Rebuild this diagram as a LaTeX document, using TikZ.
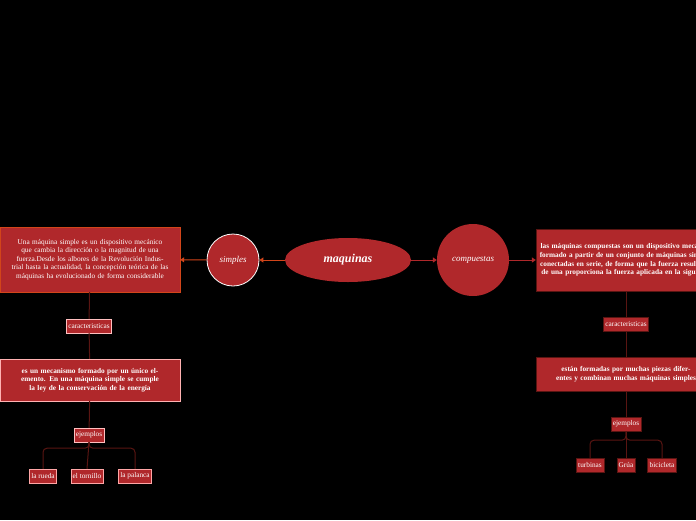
\documentclass[tikz,border=0pt]{standalone}
\usepackage{fontspec}
\setmainfont{Liberation Serif}
\usetikzlibrary{arrows.meta,shapes.geometric}
\definecolor{boxred}{HTML}{B0282B}
\definecolor{linkor}{HTML}{D2451A}
\definecolor{linkdk}{HTML}{5A1512}
\begin{document}
\begin{tikzpicture}[x=1pt,y=-1pt,
  txt/.style={fill=boxred,text=white,font=\fontsize{7.3}{8.6}\selectfont,align=center,inner sep=2pt,draw=linkor,line width=0.4pt},
  bold/.style={txt,font=\bfseries\fontsize{7.3}{8.6}\selectfont,draw=red!30!white},
  tag/.style={fill=boxred,text=white,font=\fontsize{7.3}{8.6}\selectfont,inner sep=2pt,draw=red!25!white,line width=0.4pt,minimum height=14pt},
  leaf/.style={tag,draw=red!35!white},
  vlink/.style={draw=linkdk,line width=1pt},
  hlink/.style={draw=linkor,line width=1pt}]
\fill[black] (0,0) rectangle (696,520);
\clip (0,0) rectangle (696,520);
\useasboundingbox (0,0) rectangle (696,520);
% central
\node[ellipse,fill=boxred,minimum width=126pt,minimum height=44pt,inner sep=0,text=white,font=\bfseries\itshape\large] (m) at (348,260) {maquinas};
\node[circle,fill=boxred,draw=white,line width=0.8pt,minimum size=52pt,inner sep=0,text=white,font=\itshape\small] (s) at (233,260) {simples};
\node[circle,fill=boxred,minimum size=72pt,inner sep=0,text=white,font=\itshape\small] (c) at (473,260) {compuestas};
% left
\node[txt,text width=176pt,minimum height=65pt] (l1) at (90,259.5) {Una máquina simple es un dispositivo mecánico que cambia la dirección o la magnitud de una fuerza.Desde los albores de la Revolución Industrial hasta la actualidad, la concepción teórica de las máquinas ha evolucionado de forma considerable};
\node[tag] (lc) at (89,326) {caracteristicas};
\node[bold,text width=176pt,minimum height=42pt] (l2) at (90,380) {es un mecanismo formado por un único elemento. En una máquina simple se cumple la ley de la conservación de la energía};
\node[tag] (le) at (89,435) {ejemplos};
\node[leaf] (r1) at (43,476) {la rueda};
\node[leaf] (r2) at (87,476) {el tornillo};
\node[leaf] (r3) at (135,476) {la palanca};
% right
\node[bold,draw=linkdk,text width=176pt,minimum height=62pt] (rb1) at (626,260) {las máquinas compuestas son un dispositivo mecánico formado a partir de un conjunto de máquinas simples conectadas en serie, de forma que la fuerza resultante de una proporciona la fuerza aplicada en la siguiente};
\node[tag,draw=linkdk] (rc) at (626,324) {caracteristicas};
\node[bold,draw=linkdk,text width=176pt,minimum height=34pt] (rb2) at (626,374) {están formadas por muchas piezas diferentes y combinan muchas máquinas simples};
\node[tag,draw=linkdk] (re) at (626,424) {ejemplos};
\node[leaf,draw=linkdk] (t1) at (590,465) {turbinas};
\node[leaf,draw=linkdk] (t2) at (626,465) {Grúa};
\node[leaf,draw=linkdk] (t3) at (662,465) {bicicleta};
% links
\draw[hlink,-{Triangle[width=5pt,length=4pt]}] (m) -- (s);
\draw[hlink,-{Triangle[width=5pt,length=4pt]}] (s) -- (l1);
\draw[draw=boxred,line width=1pt,-{Triangle[width=5pt,length=4pt]}] (m) -- (c);
\draw[draw=boxred,line width=1pt,-{Triangle[width=5pt,length=4pt]}] (c) -- (rb1);
\draw[vlink] (l1) -- (lc); \draw[vlink] (lc) -- (l2); \draw[vlink] (l2) -- (le);
\draw[vlink,rounded corners=4pt] (le.south) -- ++(0,6) -| (r1.north);
\draw[vlink,rounded corners=4pt] (le.south) -- ++(0,6) -| (r3.north);
\draw[vlink] (le.south) -- (r2.north);
\draw[vlink] (rb1) -- (rc); \draw[vlink] (rc) -- (rb2); \draw[vlink] (rb2) -- (re);
\draw[vlink,rounded corners=4pt] (re.south) -- ++(0,9) -| (t1.north);
\draw[vlink,rounded corners=4pt] (re.south) -- ++(0,9) -| (t3.north);
\draw[vlink] (re.south) -- (t2.north);
\end{tikzpicture}
\end{document}
